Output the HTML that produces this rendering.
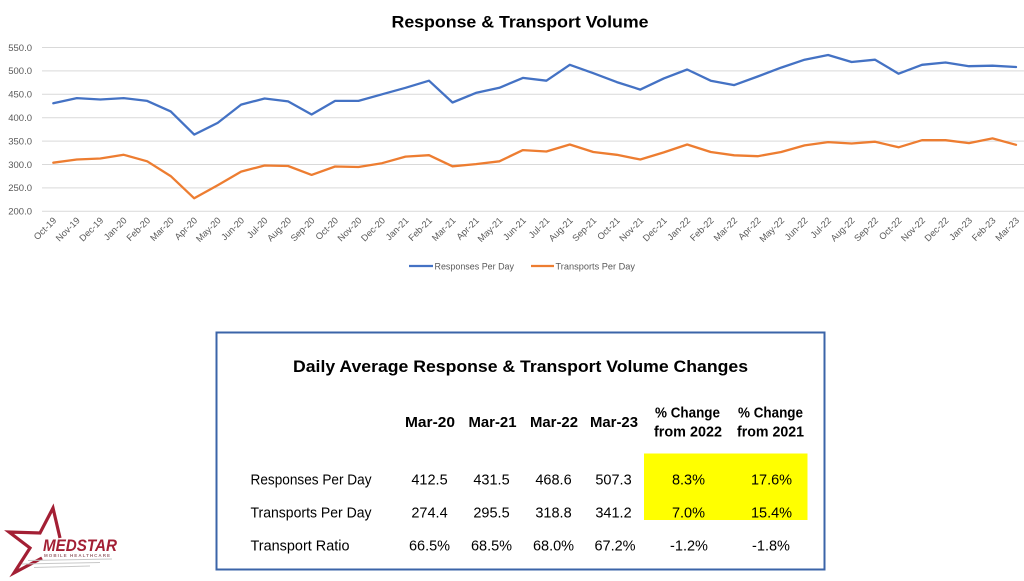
<!DOCTYPE html>
<html><head><meta charset="utf-8"><style>
html,body{margin:0;padding:0;background:#fff;}
svg{display:block;}
text{font-family:"Liberation Sans",Arial,sans-serif;}
</style></head><body>
<svg width="1024" height="581" viewBox="0 0 1024 581" xmlns="http://www.w3.org/2000/svg">
<rect width="1024" height="581" fill="#fff"/>
<!-- Chart title -->
<text x="520" y="27.5" text-anchor="middle" font-size="17" font-weight="bold" fill="#000" textLength="257" lengthAdjust="spacingAndGlyphs">Response &amp; Transport Volume</text>
<!-- gridlines -->
<g stroke="#d9d9d9" stroke-width="1">
<line x1="42" x2="1024" y1="47.5" y2="47.5"/>
<line x1="42" x2="1024" y1="70.9" y2="70.9"/>
<line x1="42" x2="1024" y1="94.3" y2="94.3"/>
<line x1="42" x2="1024" y1="117.7" y2="117.7"/>
<line x1="42" x2="1024" y1="141.1" y2="141.1"/>
<line x1="42" x2="1024" y1="164.5" y2="164.5"/>
<line x1="42" x2="1024" y1="187.9" y2="187.9"/>
<line x1="42" x2="1024" y1="211.3" y2="211.3"/>
</g>
<!-- y labels -->
<g font-size="9.5" fill="#595959" text-anchor="end">
<text x="32" y="50.8">550.0</text>
<text x="32" y="74.2">500.0</text>
<text x="32" y="97.6">450.0</text>
<text x="32" y="121">400.0</text>
<text x="32" y="144.4">350.0</text>
<text x="32" y="167.8">300.0</text>
<text x="32" y="191.2">250.0</text>
<text x="32" y="214.6">200.0</text>
</g>
<!-- x labels -->
<g font-size="9.2" fill="#595959" text-anchor="end">
<text transform="translate(57,221) rotate(-45)">Oct-19</text>
<text transform="translate(80.5,221) rotate(-45)">Nov-19</text>
<text transform="translate(104,221) rotate(-45)">Dec-19</text>
<text transform="translate(127.4,221) rotate(-45)">Jan-20</text>
<text transform="translate(150.9,221) rotate(-45)">Feb-20</text>
<text transform="translate(174.4,221) rotate(-45)">Mar-20</text>
<text transform="translate(197.9,221) rotate(-45)">Apr-20</text>
<text transform="translate(221.4,221) rotate(-45)">May-20</text>
<text transform="translate(244.8,221) rotate(-45)">Jun-20</text>
<text transform="translate(268.3,221) rotate(-45)">Jul-20</text>
<text transform="translate(291.8,221) rotate(-45)">Aug-20</text>
<text transform="translate(315.3,221) rotate(-45)">Sep-20</text>
<text transform="translate(338.8,221) rotate(-45)">Oct-20</text>
<text transform="translate(362.2,221) rotate(-45)">Nov-20</text>
<text transform="translate(385.7,221) rotate(-45)">Dec-20</text>
<text transform="translate(409.2,221) rotate(-45)">Jan-21</text>
<text transform="translate(432.7,221) rotate(-45)">Feb-21</text>
<text transform="translate(456.2,221) rotate(-45)">Mar-21</text>
<text transform="translate(479.6,221) rotate(-45)">Apr-21</text>
<text transform="translate(503.1,221) rotate(-45)">May-21</text>
<text transform="translate(526.6,221) rotate(-45)">Jun-21</text>
<text transform="translate(550.1,221) rotate(-45)">Jul-21</text>
<text transform="translate(573.5,221) rotate(-45)">Aug-21</text>
<text transform="translate(597,221) rotate(-45)">Sep-21</text>
<text transform="translate(620.5,221) rotate(-45)">Oct-21</text>
<text transform="translate(644,221) rotate(-45)">Nov-21</text>
<text transform="translate(667.5,221) rotate(-45)">Dec-21</text>
<text transform="translate(690.9,221) rotate(-45)">Jan-22</text>
<text transform="translate(714.4,221) rotate(-45)">Feb-22</text>
<text transform="translate(737.9,221) rotate(-45)">Mar-22</text>
<text transform="translate(761.4,221) rotate(-45)">Apr-22</text>
<text transform="translate(784.9,221) rotate(-45)">May-22</text>
<text transform="translate(808.3,221) rotate(-45)">Jun-22</text>
<text transform="translate(831.8,221) rotate(-45)">Jul-22</text>
<text transform="translate(855.3,221) rotate(-45)">Aug-22</text>
<text transform="translate(878.8,221) rotate(-45)">Sep-22</text>
<text transform="translate(902.3,221) rotate(-45)">Oct-22</text>
<text transform="translate(925.7,221) rotate(-45)">Nov-22</text>
<text transform="translate(949.2,221) rotate(-45)">Dec-22</text>
<text transform="translate(972.7,221) rotate(-45)">Jan-23</text>
<text transform="translate(996.2,221) rotate(-45)">Feb-23</text>
<text transform="translate(1019.7,221) rotate(-45)">Mar-23</text>
</g>
<!-- series -->
<polyline fill="none" stroke="#4472c4" stroke-width="2.3" stroke-linejoin="round" stroke-linecap="round" points="53.3,103.2 76.8,98.1 100.3,99.5 123.7,98.1 147.2,100.9 170.7,111.4 194.2,134.6 217.7,122.9 241.1,104.6 264.6,98.5 288.1,101.4 311.6,114.5 335.1,100.9 358.5,100.9 382,94.3 405.5,87.8 429,80.7 452.5,102.5 475.9,92.9 499.4,87.8 522.9,77.9 546.4,80.7 569.8,64.8 593.3,73.2 616.8,82.1 640.3,89.6 663.8,78.4 687.2,69.5 710.7,80.7 734.2,85.1 757.7,76.5 781.2,67.6 804.6,59.7 828.1,55 851.6,62 875.1,59.7 898.6,73.7 922,64.8 945.5,62.5 969,66.2 992.5,65.7 1016,67"/>
<polyline fill="none" stroke="#ed7d31" stroke-width="2.3" stroke-linejoin="round" stroke-linecap="round" points="53.3,162.7 76.8,159.5 100.3,158.5 123.7,154.8 147.2,161.3 170.7,176.1 194.2,198.3 217.7,185.2 241.1,171.6 264.6,165.5 288.1,166 311.6,174.9 335.1,166.5 358.5,167 382,163.2 405.5,156.6 429,155.2 452.5,166.3 475.9,164.1 499.4,161.3 522.9,150.1 546.4,151.5 569.8,144.5 593.3,152 616.8,154.8 640.3,159.5 663.8,152.4 687.2,144.5 710.7,152 734.2,155.3 757.7,156.2 781.2,152 804.6,145.4 828.1,142.1 851.6,143.5 875.1,141.7 898.6,147.3 922,140.2 945.5,140.2 969,143.1 992.5,138.4 1016,144.8"/>
<!-- legend -->
<line x1="409" x2="433" y1="266" y2="266" stroke="#4472c4" stroke-width="2.3"/>
<text x="434.5" y="269.3" font-size="9" fill="#595959" textLength="79.5" lengthAdjust="spacingAndGlyphs">Responses Per Day</text>
<line x1="531" x2="554" y1="266" y2="266" stroke="#ed7d31" stroke-width="2.3"/>
<text x="555.5" y="269.3" font-size="9" fill="#595959" textLength="79.5" lengthAdjust="spacingAndGlyphs">Transports Per Day</text>

<!-- Table box -->
<rect x="216.5" y="332.5" width="608" height="237" fill="#fff" stroke="#3b64a8" stroke-width="2"/>
<rect x="644" y="453.5" width="163.5" height="66.5" fill="#ffff00"/>
<text x="520.5" y="372" text-anchor="middle" font-size="16.5" font-weight="bold" fill="#000" textLength="455" lengthAdjust="spacingAndGlyphs">Daily Average Response &amp; Transport Volume Changes</text>
<g font-size="14.5" font-weight="bold" fill="#000" text-anchor="middle">
<text x="430" y="427" textLength="50" lengthAdjust="spacingAndGlyphs">Mar-20</text>
<text x="492.5" y="427" textLength="48" lengthAdjust="spacingAndGlyphs">Mar-21</text>
<text x="554" y="427" textLength="48" lengthAdjust="spacingAndGlyphs">Mar-22</text>
<text x="614" y="427" textLength="48" lengthAdjust="spacingAndGlyphs">Mar-23</text>
<text x="687.5" y="417.5" textLength="65" lengthAdjust="spacingAndGlyphs">% Change</text>
<text x="688" y="436.5" textLength="68" lengthAdjust="spacingAndGlyphs">from 2022</text>
<text x="770.5" y="417.5" textLength="65" lengthAdjust="spacingAndGlyphs">% Change</text>
<text x="770.5" y="436.5" textLength="67" lengthAdjust="spacingAndGlyphs">from 2021</text>
</g>
<g font-size="14.5" fill="#000">
<text x="250.5" y="484.5" textLength="121" lengthAdjust="spacingAndGlyphs">Responses Per Day</text>
<text x="250.5" y="517.5" textLength="121" lengthAdjust="spacingAndGlyphs">Transports Per Day</text>
<text x="250.5" y="550.5" textLength="99" lengthAdjust="spacingAndGlyphs">Transport Ratio</text>
</g>
<g font-size="14.5" fill="#000" text-anchor="middle">
<text x="429.5" y="484.5">412.5</text>
<text x="491.5" y="484.5">431.5</text>
<text x="553.5" y="484.5">468.6</text>
<text x="613.5" y="484.5">507.3</text>
<text x="688.5" y="484.5">8.3%</text>
<text x="771.5" y="484.5">17.6%</text>
<text x="429.5" y="517.5">274.4</text>
<text x="491.5" y="517.5">295.5</text>
<text x="553.5" y="517.5">318.8</text>
<text x="613.5" y="517.5">341.2</text>
<text x="688.5" y="517.5">7.0%</text>
<text x="771.5" y="517.5">15.4%</text>
<text x="429.5" y="550.5">66.5%</text>
<text x="491.5" y="550.5">68.5%</text>
<text x="553.5" y="550.5">68.0%</text>
<text x="615" y="550.5">67.2%</text>
<text x="689" y="550.5">-1.2%</text>
<text x="771" y="550.5">-1.8%</text>
</g>

<!-- Logo -->
<g fill="none" stroke="#a31f34" stroke-width="3.2" stroke-linejoin="miter">
<polyline points="60,538 53,508 40,533 9,532 30,548 14,573 42,558"/>
</g>
<g stroke="#c8c8c8" stroke-width="1">
<line x1="28" y1="560.5" x2="112" y2="559"/>
<line x1="22" y1="564" x2="100" y2="562.5"/>
<line x1="34" y1="567.5" x2="90" y2="566"/>
</g>
<text x="43" y="551" font-size="17" font-weight="bold" font-style="italic" fill="#a31f34" textLength="74" lengthAdjust="spacingAndGlyphs">MEDSTAR</text>
<text x="44" y="557" font-size="4.5" font-weight="bold" fill="#9a6a70" textLength="66" lengthAdjust="spacing">MOBILE HEALTHCARE</text>
</svg>
</body></html>
